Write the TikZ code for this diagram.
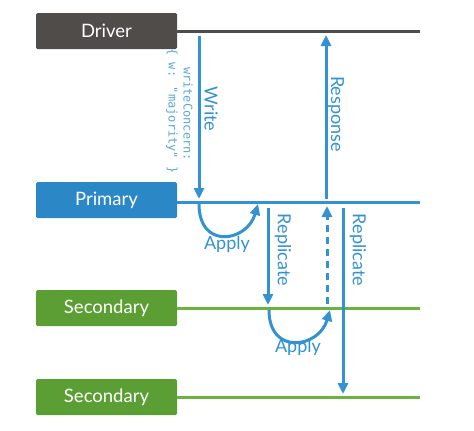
\documentclass[tikz,border=0pt]{standalone}
\usepackage{fontspec}
\setmainfont{Lato}
\newfontfamily\monofont{DejaVu Sans Mono}
\usetikzlibrary{arrows.meta}
\definecolor{drvgray}{HTML}{4F4C4A}
\definecolor{prblue}{HTML}{2B87C6}
\definecolor{scgreen}{HTML}{5B9F34}
\definecolor{arblue}{HTML}{3292D2}
\definecolor{lngreen}{HTML}{6AB33E}
\definecolor{mono}{HTML}{5AA6DA}
\tikzset{
  role/.style={minimum width=141pt, minimum height=36pt, rounded corners=1.5pt,
    text=white, font=\fontsize{18.5}{22}\selectfont, inner sep=0pt},
  lane/.style={line width=3pt},
  msg/.style={draw=arblue, line width=3pt, -{Triangle[length=11pt,width=10pt]}, arblue},
  lbl/.style={text=arblue, font=\fontsize{18}{21}\selectfont, inner sep=0pt},
  codelbl/.style={text=mono, font=\monofont\fontsize{12}{14}\selectfont, inner sep=0pt, rotate=-90},
}
\begin{document}
\begin{tikzpicture}[x=1pt,y=-1pt]
\useasboundingbox (0,0) rectangle (474,431);
% role boxes
\node[role, fill=drvgray] (driver) at (106.5,31) {Driver};
\node[role, fill=prblue] (primary) at (106.5,200) {Primary};
\node[role, fill=scgreen] (sec1) at (106.5,308) {Secondary};
\node[role, fill=scgreen] (sec2) at (106.5,397) {Secondary};
% lane ends
\coordinate (dE) at (420,31);
\coordinate (pE) at (420,202);
\coordinate (s1E) at (420,308);
\coordinate (s2E) at (420,397);
\draw[lane, drvgray] (driver.east |- dE) -- (dE);
\draw[lane, arblue] (primary.east |- pE) -- (pE);
\draw[lane, lngreen] (sec1.east |- s1E) -- (s1E);
\draw[lane, lngreen] (sec2.east |- s2E) -- (s2E);
% message points
\coordinate (wTop) at (199,36);
\coordinate (wBot) at (199,199);
\coordinate (rTop) at (326,35);
\coordinate (rBot) at (326,199);
\coordinate (a1s) at (199,204);
\coordinate (a1e) at (258,204);
\coordinate (rep1s) at (268,208);
\coordinate (rep1e) at (268,305);
\coordinate (a2s) at (269,310);
\coordinate (a2e) at (330,310);
\coordinate (dashS) at (327,304);
\coordinate (dashE) at (327,206);
\coordinate (rep2s) at (343,208);
\coordinate (rep2e) at (343,394);
% arrows
\draw[msg] (wTop) -- (wBot);
\draw[msg] (rBot) -- (rTop);
\draw[msg] (a1s) .. controls (199,250) and (247,242) .. (a1e);
\draw[msg] (rep1s) -- (rep1e);
\draw[msg] (a2s) .. controls (269,356) and (319,348) .. (a2e);
\draw[msg, dash pattern=on 7pt off 5pt] (dashS) -- (dashE);
\draw[msg] (rep2s) -- (rep2e);
% labels
\node[lbl, rotate=-90] (lwrite) at (211,109) {Write};
\node[lbl, rotate=-90] (lresp) at (336,114) {Response};
\node[lbl, rotate=-90] (lrep1) at (283,250) {Replicate};
\node[lbl, rotate=-90] (lrep2) at (358,250) {Replicate};
\node[lbl] (lapp1) at (227,244) {Apply};
\node[lbl] (lapp2) at (298,347) {Apply};
\node[codelbl] (wc1) at (188,114) {writeConcern:};
\node[codelbl] (wc2) at (172,111) {\{ w: "majority" \}};
\end{tikzpicture}
\end{document}
